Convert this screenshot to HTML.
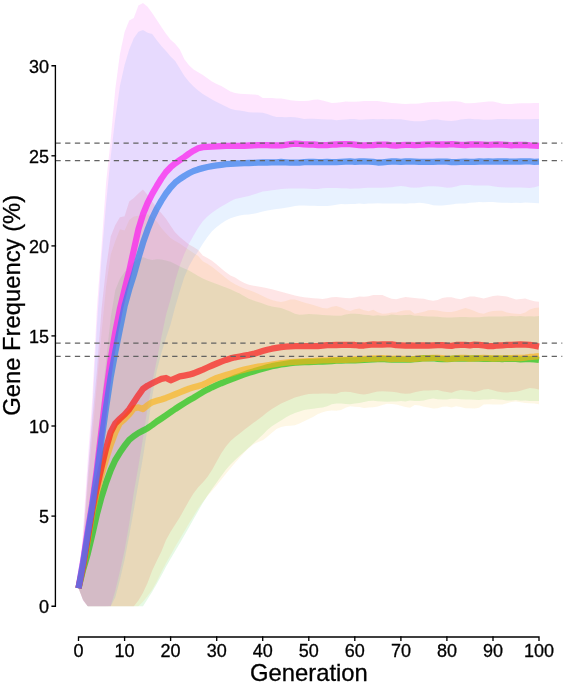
<!DOCTYPE html>
<html lang="en">
<head>
<meta charset="utf-8">
<title>Gene Frequency by Generation</title>
<style>
html,body{margin:0;padding:0;background:#fff;}
body{width:565px;height:685px;overflow:hidden;font-family:"Liberation Sans",Arial,Helvetica,sans-serif;}
svg{display:block;}
</style>
</head>
<body>
<svg width="565" height="685" viewBox="0 0 565 685">
<rect width="565" height="685" fill="#ffffff"/>
<g>
<polygon points="78.5,588.2 83.1,564.4 87.7,529.2 92.3,482.5 96.9,441.3 101.5,401.8 106.1,360 110.7,317.6 115.3,289.9 119.9,278.7 124.6,272.1 129.2,266.5 133.8,262.2 138.4,258.7 143,257 147.6,259 152.2,259.9 156.8,259.3 161.4,259.6 166,260.5 170.6,261.7 175.2,264.1 179.8,266.6 184.4,268.6 189,270.6 193.6,273.2 198.2,276 202.8,278.4 207.4,280.5 212,282.3 216.7,284 221.3,285.7 225.9,287.4 230.5,289.3 235.1,291.4 239.7,293.6 244.3,296.2 248.9,298.7 253.5,300.5 258.1,301.9 262.7,303.5 267.3,305.2 271.9,306.4 276.5,307.2 281.1,308 285.7,309.7 290.3,311.6 294.9,313.7 299.5,314.8 304.1,314.5 308.8,314 313.4,314.2 318,314.6 322.6,315 327.2,315.3 331.8,315.6 336.4,315.7 341,315.7 345.6,314.4 350.2,313.7 354.8,313.7 359.4,314 364,314.7 368.6,315.1 373.2,315.7 377.8,315.2 382.4,315.7 387,315.6 391.6,314.5 396.2,315 400.9,315.2 405.5,314.9 410.1,314.8 414.7,315.7 419.3,315.8 423.9,316.2 428.5,316.4 433.1,316.6 437.7,316.8 442.3,317.2 446.9,317.5 451.5,317.5 456.1,317.2 460.7,317.1 465.3,316.9 469.9,317.2 474.5,317.3 479.1,317.2 483.7,316.8 488.3,316.4 493,316.4 497.6,316.4 502.2,316.4 506.8,316.3 511.4,316.1 516,316.3 520.6,316.1 525.2,316.4 529.8,316.3 534.4,316.5 539,316 539,400.9 534.4,401 529.8,401.1 525.2,400.6 520.6,400.7 516,400.1 511.4,400.6 506.8,400.4 502.2,399.7 497.6,399.6 493,399 488.3,399.5 483.7,399.6 479.1,400.1 474.5,399.8 469.9,399.6 465.3,399.5 460.7,399.2 456.1,398.8 451.5,398.7 446.9,399.4 442.3,399.5 437.7,399.2 433.1,398.6 428.5,399.3 423.9,400.5 419.3,400.9 414.7,401 410.1,400.6 405.5,401.5 400.9,401.1 396.2,401.6 391.6,401.4 387,401.8 382.4,401.6 377.8,401.2 373.2,400.7 368.6,401.1 364,402 359.4,403 354.8,403.4 350.2,404.2 345.6,404 341,403.5 336.4,403.6 331.8,404.3 327.2,406.2 322.6,407.5 318,408.1 313.4,408.8 308.8,409.2 304.1,409.9 299.5,411.4 294.9,413.1 290.3,415.1 285.7,417.6 281.1,420.4 276.5,423.2 271.9,426.3 267.3,430.1 262.7,434.8 258.1,439 253.5,443.2 248.9,447.4 244.3,451.7 239.7,455.8 235.1,459.9 230.5,464.4 225.9,469.8 221.3,476 216.7,482.5 212,489 207.4,495.7 202.8,502.9 198.2,510.9 193.6,519.1 189,527.2 184.4,535.3 179.8,543.3 175.2,551.1 170.6,558.8 166,566.8 161.4,575.4 156.8,583.8 152.2,591.7 147.6,599 143,606.2 138.4,606.2 133.8,606.2 129.2,606.2 124.6,606.2 119.9,606.2 115.3,606.2 110.7,606.2 106.1,606.2 101.5,606.2 96.9,606.2 92.3,606.2 87.7,606.2 83.1,599.4 78.5,588.2" fill="rgb(28,199,20)" fill-opacity="0.11"/>
<polygon points="78.5,588.2 83.1,546.1 87.7,486.6 92.3,436.1 96.9,383.7 101.5,333.2 106.1,286.4 110.7,254.6 115.3,241 119.9,229.3 124.6,230.6 129.2,220.1 133.8,216.6 138.4,215.7 143,214.4 147.6,214.3 152.2,217.1 156.8,221.6 161.4,228 166,233.3 170.6,237.9 175.2,241 179.8,243.4 184.4,246.7 189,250.1 193.6,252.9 198.2,256 202.8,261.3 207.4,263.8 212,266.8 216.7,270.6 221.3,274.3 225.9,278.1 230.5,281.5 235.1,284.2 239.7,286.5 244.3,288.5 248.9,290 253.5,291.8 258.1,293.7 262.7,295.9 267.3,298.3 271.9,299.9 276.5,301.2 281.1,301.9 285.7,301.1 290.3,299.5 294.9,299.5 299.5,300.9 304.1,302.4 308.8,303.8 313.4,304.9 318,306.5 322.6,308 327.2,308.6 331.8,306.7 336.4,306 341,307.4 345.6,309.7 350.2,311 354.8,309.2 359.4,308.4 364,310.2 368.6,311.3 373.2,309.7 377.8,312.2 382.4,313.7 387,313.6 391.6,312.5 396.2,312.5 400.9,311.1 405.5,310.3 410.1,310.3 414.7,313.7 419.3,312.7 423.9,311.8 428.5,310.2 433.1,309.9 437.7,310.5 442.3,311.6 446.9,311.9 451.5,312 456.1,311.1 460.7,309.4 465.3,308 469.9,309.2 474.5,310.9 479.1,313 483.7,313.7 488.3,312.1 493,311 497.6,310.8 502.2,310.8 506.8,312.4 511.4,313.3 516,313.7 520.6,314.1 525.2,312.4 529.8,309.6 534.4,308.1 539,307.6 539,404.3 534.4,403.5 529.8,403.3 525.2,402.9 520.6,402.2 516,401.6 511.4,402.1 506.8,403.2 502.2,404.5 497.6,404.6 493,404.5 488.3,404.3 483.7,404.5 479.1,407.8 474.5,408.5 469.9,408.3 465.3,408.2 460.7,406.9 456.1,406.2 451.5,407.6 446.9,406.5 442.3,406.8 437.7,408.2 433.1,408.4 428.5,407.4 423.9,406.7 419.3,405.6 414.7,405.1 410.1,407.7 405.5,407 400.9,405.7 396.2,404.4 391.6,404 387,403.8 382.4,405 377.8,406.6 373.2,407.3 368.6,407.4 364,407.9 359.4,407.1 354.8,406.7 350.2,406.3 345.6,407.7 341,410.1 336.4,410.7 331.8,410.6 327.2,411.1 322.6,412.3 318,413.9 313.4,416.7 308.8,419.1 304.1,421.3 299.5,423.5 294.9,425.3 290.3,425.8 285.7,426.1 281.1,426.9 276.5,429 271.9,432.8 267.3,436.8 262.7,440.2 258.1,442.1 253.5,444.3 248.9,448 244.3,452.6 239.7,457.5 235.1,462.7 230.5,468.2 225.9,473.8 221.3,479.5 216.7,485.2 212,490.7 207.4,496.1 202.8,501.9 198.2,508.6 193.6,516 189,523.6 184.4,531.2 179.8,538.9 175.2,546.8 170.6,554.9 166,563.2 161.4,572.1 156.8,581.5 152.2,589.7 147.6,596.1 143,601.7 138.4,606.2 133.8,606.2 129.2,606.2 124.6,606.2 119.9,606.2 115.3,606.2 110.7,606.2 106.1,606.2 101.5,606.2 96.9,606.2 92.3,606.2 87.7,606.2 83.1,600.2 78.5,588.2" fill="rgb(250,178,20)" fill-opacity="0.11"/>
<polygon points="78.5,588.2 83.1,536.3 87.7,474.4 92.3,420.6 96.9,370.9 101.5,309.3 106.1,267.6 110.7,236.5 115.3,225.1 119.9,217.2 124.6,216.2 129.2,201.4 133.8,198 138.4,193.6 143,189.6 147.6,195.1 152.2,201.8 156.8,207.7 161.4,213.2 166,218.8 170.6,225.8 175.2,232.5 179.8,236.9 184.4,240.7 189,244.4 193.6,247 198.2,250 202.8,255.5 207.4,257.9 212,260.8 216.7,264.5 221.3,268.4 225.9,272.2 230.5,275.5 235.1,277.6 239.7,280.5 244.3,283.1 248.9,284.7 253.5,285.7 258.1,286.4 262.7,287.2 267.3,288.2 271.9,289.2 276.5,290.4 281.1,291.8 285.7,293.1 290.3,294.3 294.9,295.5 299.5,296.5 304.1,297.2 308.8,297.8 313.4,298.3 318,298.4 322.6,298.9 327.2,298.2 331.8,297.2 336.4,296.9 341,297.6 345.6,298.1 350.2,298.3 354.8,297.5 359.4,296.6 364,296.8 368.6,296.2 373.2,295.1 377.8,295.1 382.4,294.9 387,297 391.6,298.7 396.2,299.2 400.9,298.1 405.5,297 410.1,297.5 414.7,298 419.3,298.4 423.9,298.7 428.5,300.1 433.1,300.7 437.7,299.9 442.3,298 446.9,297.3 451.5,297.3 456.1,298.5 460.7,299.2 465.3,297.8 469.9,296.4 474.5,296.5 479.1,297.6 483.7,298.5 488.3,297.2 493,296 497.6,295.5 502.2,295.9 506.8,296.5 511.4,298 516,299.4 520.6,299 525.2,298.6 529.8,299.9 534.4,301.3 539,301.7 539,389.4 534.4,388.6 529.8,388.1 525.2,389.3 520.6,390.7 516,391.7 511.4,392.1 506.8,392.4 502.2,392.3 497.6,391.5 493,390.2 488.3,389 483.7,389.6 479.1,390.9 474.5,392 469.9,391.1 465.3,390.5 460.7,390 456.1,391.1 451.5,392.8 446.9,391.9 442.3,391.2 437.7,390 433.1,390.3 428.5,390.4 423.9,390.5 419.3,391.2 414.7,392.2 410.1,393.4 405.5,393.7 400.9,393.3 396.2,392.3 391.6,391.7 387,391.6 382.4,391.3 377.8,391.4 373.2,392.4 368.6,393.7 364,394.5 359.4,394 354.8,393 350.2,392 345.6,391.7 341,392 336.4,393.8 331.8,393.7 327.2,393.5 322.6,393.6 318,393.7 313.4,393.7 308.8,393.9 304.1,395 299.5,396.3 294.9,397.6 290.3,399.4 285.7,401.4 281.1,403.6 276.5,406.2 271.9,409 267.3,412.3 262.7,415.9 258.1,419.4 253.5,422.8 248.9,426.3 244.3,429.8 239.7,433.5 235.1,437.1 230.5,441 225.9,446.4 221.3,453.2 216.7,461.5 212,470.1 207.4,477.1 202.8,482.4 198.2,487.3 193.6,493.3 189,500.8 184.4,509.1 179.8,517.3 175.2,524.6 170.6,531.7 166,540 161.4,551.6 156.8,560.7 152.2,570.6 147.6,582.8 143,592.8 138.4,600.4 133.8,606.2 129.2,606.2 124.6,606.2 119.9,606.2 115.3,606.2 110.7,606.2 106.1,606.2 101.5,606.2 96.9,606.2 92.3,606.2 87.7,606.2 83.1,600.2 78.5,588.2" fill="rgb(243,21,27)" fill-opacity="0.11"/>
<polygon points="78.5,588.2 83.1,529.3 87.7,460.8 92.3,398.2 96.9,308.5 101.5,246.7 106.1,182.5 110.7,139.8 115.3,89 119.9,54.3 124.6,31.9 129.2,20.5 133.8,17.9 138.4,5.6 143,3 147.6,6.8 152.2,12.9 156.8,20 161.4,27 166,33.8 170.6,39.7 175.2,43.8 179.8,49.5 184.4,59.2 189,65.2 193.6,69.5 198.2,72.3 202.8,74.9 207.4,78.2 212,81.4 216.7,83.9 221.3,86.1 225.9,88.7 230.5,91.4 235.1,92.9 239.7,93.7 244.3,94.1 248.9,94.2 253.5,94.5 258.1,95.1 262.7,97.9 267.3,98.1 271.9,98.1 276.5,98.4 281.1,98.5 285.7,99.3 290.3,100.3 294.9,100.7 299.5,101.1 304.1,101 308.8,100.7 313.4,99.8 318,99.4 322.6,100.5 327.2,101.8 331.8,103.1 336.4,102.8 341,102.2 345.6,101.6 350.2,101.7 354.8,101.8 359.4,101.6 364,101.1 368.6,101 373.2,101.1 377.8,101.1 382.4,101.7 387,102.2 391.6,103.1 396.2,103.3 400.9,103.8 405.5,103.9 410.1,103.8 414.7,103.7 419.3,103.6 423.9,102.8 428.5,102.2 433.1,101.9 437.7,101.9 442.3,101.6 446.9,101.4 451.5,101.2 456.1,101.3 460.7,101.8 465.3,103.2 469.9,103.3 474.5,102.9 479.1,102.4 483.7,102 488.3,101.6 493,101.6 497.6,102.6 502.2,103.8 506.8,104.1 511.4,104.1 516,103.6 520.6,103.2 525.2,103.3 529.8,103.3 534.4,103.1 539,102.9 539,186 534.4,187.2 529.8,187.9 525.2,187.8 520.6,187.5 516,187.5 511.4,187.4 506.8,187.4 502.2,187.3 497.6,187 493,186.3 488.3,185.5 483.7,185.4 479.1,185.4 474.5,185.4 469.9,184.9 465.3,185 460.7,185.3 456.1,186.5 451.5,187.5 446.9,187.8 442.3,187.1 437.7,186.5 433.1,186.2 428.5,186.3 423.9,186.8 419.3,187.5 414.7,187.8 410.1,187.6 405.5,186.5 400.9,186.1 396.2,186.6 391.6,187.2 387,187.4 382.4,187.8 377.8,187.7 373.2,187.8 368.6,187.7 364,188.1 359.4,188.4 354.8,188.5 350.2,188.7 345.6,188.3 341,188.3 336.4,188 331.8,187.9 327.2,187.9 322.6,188.3 318,189 313.4,188.9 308.8,188.8 304.1,188.4 299.5,188.4 294.9,188.5 290.3,188.4 285.7,188.8 281.1,189.1 276.5,189.8 271.9,190.3 267.3,190.9 262.7,191.6 258.1,192.9 253.5,194.6 248.9,196 244.3,197.1 239.7,198 235.1,199.1 230.5,201.3 225.9,203.9 221.3,206.5 216.7,209.4 212,212.7 207.4,216.5 202.8,221.2 198.2,227.8 193.6,235.6 189,243.8 184.4,253.7 179.8,265.5 175.2,280.8 170.6,298.9 166,315 161.4,336.9 156.8,359.8 152.2,382.6 147.6,407.6 143,438.1 138.4,466.2 133.8,492.5 129.2,523.7 124.6,550.3 119.9,571.2 115.3,590.7 110.7,606 106.1,606.2 101.5,606.2 96.9,606.2 92.3,606.2 87.7,606.2 83.1,600.4 78.5,588.2" fill="rgb(250,20,245)" fill-opacity="0.11"/>
<polygon points="78.5,588.2 83.1,546.6 87.7,475.2 92.3,410.8 96.9,324.8 101.5,258.2 106.1,203.2 110.7,156.7 115.3,118.2 119.9,85.9 124.6,65.1 129.2,49.5 133.8,38.3 138.4,31.8 143,30 147.6,32.8 152.2,34.1 156.8,40.3 161.4,45.9 166,51 170.6,56.4 175.2,61.1 179.8,68.4 184.4,76 189,81.8 193.6,86.6 198.2,90.5 202.8,93.9 207.4,96.8 212,99.5 216.7,101.9 221.3,104.2 225.9,106.5 230.5,108.8 235.1,110 239.7,110.6 244.3,111.2 248.9,112.2 253.5,112.5 258.1,112.6 262.7,112.8 267.3,113.9 271.9,115.8 276.5,117 281.1,117.1 285.7,117.2 290.3,117.1 294.9,117.3 299.5,118 304.1,119 308.8,118.7 313.4,118.7 318,118.9 322.6,119.3 327.2,119.5 331.8,119.6 336.4,120.2 341,119.8 345.6,119.4 350.2,118.9 354.8,119.1 359.4,119.7 364,119.5 368.6,119.3 373.2,118.9 377.8,119.3 382.4,119.1 387,119.3 391.6,119 396.2,119.3 400.9,119.3 405.5,119.9 410.1,120.7 414.7,121.2 419.3,121.2 423.9,120.9 428.5,120.1 433.1,119.5 437.7,119.5 442.3,120.2 446.9,120.8 451.5,121.1 456.1,120.6 460.7,119.5 465.3,119 469.9,118.8 474.5,119.3 479.1,119.3 483.7,119.7 488.3,119.7 493,119.6 497.6,119.1 502.2,119.1 506.8,119 511.4,119.2 516,119.2 520.6,119.2 525.2,119.3 529.8,119.2 534.4,119.1 539,118.9 539,203.3 534.4,202.9 529.8,202.8 525.2,202.5 520.6,202.9 516,202.8 511.4,203 506.8,202.8 502.2,202.7 497.6,202.4 493,202.1 488.3,201.9 483.7,202.3 479.1,202.1 474.5,202.5 469.9,202.7 465.3,203.4 460.7,203.4 456.1,203.8 451.5,204.4 446.9,204.9 442.3,205.4 437.7,205.6 433.1,205.3 428.5,204.1 423.9,203.2 419.3,202.7 414.7,203.2 410.1,203.2 405.5,203.8 400.9,203.5 396.2,203.6 391.6,203.5 387,203.6 382.4,203.5 377.8,203.2 373.2,203.5 368.6,203.6 364,203.9 359.4,203.6 354.8,204 350.2,204 345.6,204.2 341,204.1 336.4,204.8 331.8,205.5 327.2,206.1 322.6,206.1 318,206.1 313.4,205.8 308.8,205.7 304.1,205.6 299.5,205.6 294.9,206.1 290.3,206.9 285.7,207.7 281.1,208.4 276.5,209 271.9,209.7 267.3,210.5 262.7,211.5 258.1,212.7 253.5,213.8 248.9,214.4 244.3,214.8 239.7,215.6 235.1,216.7 230.5,218.3 225.9,220.6 221.3,223.6 216.7,226.9 212,231.2 207.4,236.9 202.8,243.7 198.2,251.2 193.6,258.1 189,266.2 184.4,276.8 179.8,291.3 175.2,306.7 170.6,324.3 166,338 161.4,353 156.8,370.5 152.2,396.6 147.6,427.2 143,457.2 138.4,483.3 133.8,509.8 129.2,535.6 124.6,559.4 119.9,579.8 115.3,597.2 110.7,606.2 106.1,606.2 101.5,606.2 96.9,606.2 92.3,606.2 87.7,606.2 83.1,600.4 78.5,588.2" fill="rgb(50,140,255)" fill-opacity="0.11"/>
</g>
<g>
<polyline points="78.5,588.2 83.1,569.5 87.7,553.8 92.3,534.4 96.9,514.3 101.5,497 106.1,482.6 110.7,470.1 115.3,460 119.9,452.6 124.6,445.7 129.2,439.9 133.8,436.1 138.4,433 143,430.6 147.6,428.2 152.2,425 156.8,421.5 161.4,418.5 166,415.4 170.6,412.2 175.2,409 179.8,406 184.4,403.1 189,400.3 193.6,397.7 198.2,394.9 202.8,392.1 207.4,389.6 212,387.3 216.7,385.2 221.3,383.2 225.9,381.4 230.5,379.6 235.1,377.8 239.7,376.1 244.3,374.4 248.9,372.8 253.5,371.4 258.1,370 262.7,368.7 267.3,367.4 271.9,366.2 276.5,365.3 281.1,364.5 285.7,363.8 290.3,363.2 294.9,362.7 299.5,362.4 304.1,362.2 308.8,362 313.4,361.8 318,361.7 322.6,361.5 327.2,361.3 331.8,361 336.4,360.7 341,360.7 345.6,360.3 350.2,360.3 354.8,360.3 359.4,360.1 364,359.8 368.6,359.5 373.2,359.3 377.8,359.2 382.4,358.9 387,359.3 391.6,359.5 396.2,359.4 400.9,359.6 405.5,359.7 410.1,359.7 414.7,359.2 419.3,358.8 423.9,358.1 428.5,358.4 433.1,358.1 437.7,358.8 442.3,359.1 446.9,359.2 451.5,358.8 456.1,358.3 460.7,358.7 465.3,358.6 469.9,358.7 474.5,358.4 479.1,358.5 483.7,358.9 488.3,358.7 493,358.8 497.6,358.6 502.2,359 506.8,358.7 511.4,358.9 516,358.8 520.6,359.3 525.2,359.2 529.8,359.1 534.4,359.3 539,359.9" fill="none" stroke="rgb(28,199,20)" stroke-opacity="0.7" stroke-width="6.3" stroke-linejoin="round" stroke-linecap="butt"/>
<polyline points="78.5,588.2 83.1,567 87.7,540.9 92.3,512.7 96.9,492.2 101.5,475.2 106.1,459.1 110.7,444.9 115.3,432.5 119.9,423 124.6,419 129.2,414.3 133.8,408.4 138.4,407.4 143,409 147.6,405.2 152.2,402.2 156.8,400.8 161.4,399.5 166,397.9 170.6,396.1 175.2,394.3 179.8,392.4 184.4,390.5 189,388.7 193.6,387.3 198.2,386.1 202.8,384.7 207.4,382.6 212,380.1 216.7,378 221.3,376.5 225.9,375.1 230.5,373.7 235.1,372.2 239.7,370.8 244.3,369.6 248.9,368.5 253.5,367.5 258.1,366.7 262.7,366 267.3,365.3 271.9,364.6 276.5,363.9 281.1,363.2 285.7,362.7 290.3,362.2 294.9,361.9 299.5,361.6 304.1,361.3 308.8,361.1 313.4,361 318,360.7 322.6,360.4 327.2,360.3 331.8,360 336.4,360.1 341,359.9 345.6,359.8 350.2,359.6 354.8,359.5 359.4,359.4 364,358.8 368.6,358.8 373.2,358.4 377.8,358.5 382.4,358.2 387,358.5 391.6,359 396.2,358.7 400.9,358.8 405.5,358.9 410.1,359.1 414.7,358.8 419.3,358.3 423.9,358.3 428.5,358.1 433.1,357.8 437.7,357.9 442.3,358.2 446.9,358.9 451.5,358.7 456.1,358.3 460.7,357.9 465.3,358 469.9,358.5 474.5,358.4 479.1,358.2 483.7,358 488.3,358.2 493,358.5 497.6,358.4 502.2,358.4 506.8,358.1 511.4,358.1 516,358 520.6,358 525.2,357.6 529.8,357 534.4,356.7 539,356.2" fill="none" stroke="rgb(250,178,20)" stroke-opacity="0.64" stroke-width="6.3" stroke-linejoin="round" stroke-linecap="butt"/>
<polyline points="78.5,588.2 83.1,566.2 87.7,538.7 92.3,509.7 96.9,487.5 101.5,467.3 106.1,448.3 110.7,432.2 115.3,423.4 119.9,418.8 124.6,414.5 129.2,409.3 133.8,402.2 138.4,395.3 143,388.9 147.6,385.7 152.2,383.3 156.8,381 161.4,378.9 166,378 170.6,380.3 175.2,378.3 179.8,376.4 184.4,375.6 189,374.7 193.6,373.4 198.2,371.5 202.8,369.6 207.4,367.5 212,365.5 216.7,363.5 221.3,361.6 225.9,359.9 230.5,358.4 235.1,357.3 239.7,356.5 244.3,355.7 248.9,354.9 253.5,353.9 258.1,352.5 262.7,351.1 267.3,349.8 271.9,348.7 276.5,347.9 281.1,347.2 285.7,346.7 290.3,346.3 294.9,346.1 299.5,346.1 304.1,346.1 308.8,346.1 313.4,346.1 318,346 322.6,345.6 327.2,345.2 331.8,345.1 336.4,345 341,344.9 345.6,344.8 350.2,344.8 354.8,345 359.4,345.6 364,345.5 368.6,344.9 373.2,344.4 377.8,344.7 382.4,344.5 387,344.4 391.6,344.3 396.2,345.2 400.9,345.4 405.5,345.6 410.1,345.3 414.7,345.7 419.3,345.5 423.9,345.5 428.5,345.6 433.1,345.3 437.7,345.2 442.3,345.1 446.9,345.6 451.5,345.9 456.1,345 460.7,344.9 465.3,344.9 469.9,345.4 474.5,344.7 479.1,344.8 483.7,345.4 488.3,346.1 493,346.2 497.6,345.5 502.2,345.4 506.8,344.9 511.4,344.8 516,344.6 520.6,344.5 525.2,344.6 529.8,344.8 534.4,345.7 539,346.6" fill="none" stroke="rgb(250,28,30)" stroke-opacity="0.7" stroke-width="6.3" stroke-linejoin="round" stroke-linecap="butt"/>
<polyline points="78.5,588.2 83.1,561 87.7,531.4 92.3,503.5 96.9,469.3 101.5,430.8 106.1,393 110.7,359.2 115.3,332.1 119.9,308.8 124.6,289.6 129.2,271.2 133.8,250.1 138.4,229.4 143,214.3 147.6,203 152.2,193.9 156.8,186 161.4,178.5 166,172 170.6,167.2 175.2,163.3 179.8,160.1 184.4,157 189,153.6 193.6,150.7 198.2,148.3 202.8,147.1 207.4,146.9 212,146.7 216.7,146.4 221.3,146.1 225.9,145.8 230.5,145.8 235.1,145.9 239.7,145.9 244.3,145.8 248.9,145.5 253.5,145.3 258.1,145.1 262.7,145.2 267.3,145.1 271.9,145.4 276.5,145.3 281.1,145.4 285.7,144.8 290.3,144.1 294.9,143.7 299.5,143.9 304.1,144.4 308.8,144.5 313.4,144.5 318,145 322.6,145.2 327.2,145.1 331.8,144.7 336.4,144.5 341,144.2 345.6,144.2 350.2,144.2 354.8,144.7 359.4,145.1 364,145.3 368.6,145.1 373.2,145.1 377.8,144.7 382.4,144.6 387,144.6 391.6,145.3 396.2,145.5 400.9,145.1 405.5,144.8 410.1,144.9 414.7,145.1 419.3,144.9 423.9,144.6 428.5,144.4 433.1,144.3 437.7,144.5 442.3,144.5 446.9,144.5 451.5,144.2 456.1,144.5 460.7,144.8 465.3,145 469.9,144.5 474.5,144.3 479.1,144.5 483.7,144.7 488.3,144.9 493,144.6 497.6,144.4 502.2,144.6 506.8,144.8 511.4,145.3 516,144.8 520.6,145 525.2,144.9 529.8,145.4 534.4,145.6 539,145.8" fill="none" stroke="rgb(252,25,238)" stroke-opacity="0.7" stroke-width="6.3" stroke-linejoin="round" stroke-linecap="butt"/>
<polyline points="78.5,588.2 83.1,563 87.7,534.2 92.3,505.6 96.9,474.8 101.5,439.9 106.1,407.2 110.7,376.9 115.3,351.9 119.9,329.2 124.6,305.9 129.2,289.4 133.8,274.8 138.4,258.1 143,242.8 147.6,229.7 152.2,218.1 156.8,208.7 161.4,200.6 166,193.5 170.6,187.5 175.2,182.6 179.8,179 184.4,176 189,173.3 193.6,171 198.2,169.4 202.8,168.1 207.4,167 212,166.1 216.7,165.4 221.3,164.8 225.9,164.2 230.5,163.8 235.1,163.5 239.7,163.3 244.3,163.2 248.9,163 253.5,162.8 258.1,162.6 262.7,162.5 267.3,162.5 271.9,162.4 276.5,162.3 281.1,162 285.7,162.3 290.3,162.6 294.9,162.7 299.5,162.7 304.1,162.1 308.8,162 313.4,161.9 318,162.1 322.6,162.2 327.2,162 331.8,162.1 336.4,162.1 341,161.8 345.6,161.6 350.2,161.4 354.8,161.8 359.4,161.5 364,161.5 368.6,161.6 373.2,161.9 377.8,162.5 382.4,162.3 387,161.8 391.6,161.5 396.2,161.5 400.9,161.9 405.5,161.5 410.1,161.5 414.7,161.6 419.3,161.9 423.9,161.9 428.5,161.9 433.1,161.9 437.7,161.7 442.3,161.6 446.9,161.7 451.5,162.2 456.1,162.1 460.7,161.9 465.3,161.7 469.9,161.9 474.5,161.9 479.1,161.5 483.7,161.7 488.3,161.5 493,161.6 497.6,161.4 502.2,161.5 506.8,161.5 511.4,161.6 516,161.7 520.6,161.5 525.2,161.3 529.8,161.4 534.4,161.8 539,161.7" fill="none" stroke="rgb(50,128,236)" stroke-opacity="0.7" stroke-width="6.3" stroke-linejoin="round" stroke-linecap="butt"/>
</g>
<g stroke="#626262" stroke-width="1.25" stroke-dasharray="5.3 4.43" fill="none">
<line x1="55.4" y1="143.2" x2="562.3" y2="143.2"/>
<line x1="55.4" y1="160.5" x2="562.3" y2="160.5"/>
<line x1="55.4" y1="343.1" x2="562.3" y2="343.1"/>
<line x1="55.4" y1="356.4" x2="562.3" y2="356.4"/>
</g>
<g stroke="#000" stroke-width="1.35" fill="none" stroke-linecap="square">
<path d="M52.1,65.7 H55.4 V606.2 H52.1"/>
<path d="M52.1,516.1 H55.4"/>
<path d="M52.1,426 H55.4"/>
<path d="M52.1,335.9 H55.4"/>
<path d="M52.1,245.9 H55.4"/>
<path d="M52.1,155.8 H55.4"/>
<path d="M78.5,640.3 V637 H539 V640.3"/>
<path d="M124.6,637 V640.3"/>
<path d="M170.6,637 V640.3"/>
<path d="M216.7,637 V640.3"/>
<path d="M262.7,637 V640.3"/>
<path d="M308.8,637 V640.3"/>
<path d="M354.8,637 V640.3"/>
<path d="M400.9,637 V640.3"/>
<path d="M446.9,637 V640.3"/>
<path d="M493,637 V640.3"/>
</g>
<g font-family="'Liberation Sans', Arial, Helvetica, sans-serif" font-size="18" fill="#000" stroke="#000" stroke-width="0.3">
<text x="49.1" y="613.2" text-anchor="end">0</text>
<text x="49.1" y="523.1" text-anchor="end">5</text>
<text x="49.1" y="433" text-anchor="end">10</text>
<text x="49.1" y="342.9" text-anchor="end">15</text>
<text x="49.1" y="252.9" text-anchor="end">20</text>
<text x="49.1" y="162.8" text-anchor="end">25</text>
<text x="49.1" y="72.7" text-anchor="end">30</text>
<text x="78.5" y="657.3" text-anchor="middle">0</text>
<text x="124.6" y="657.3" text-anchor="middle">10</text>
<text x="170.6" y="657.3" text-anchor="middle">20</text>
<text x="216.7" y="657.3" text-anchor="middle">30</text>
<text x="262.7" y="657.3" text-anchor="middle">40</text>
<text x="308.8" y="657.3" text-anchor="middle">50</text>
<text x="354.8" y="657.3" text-anchor="middle">60</text>
<text x="400.9" y="657.3" text-anchor="middle">70</text>
<text x="446.9" y="657.3" text-anchor="middle">80</text>
<text x="493" y="657.3" text-anchor="middle">90</text>
<text x="539" y="657.3" text-anchor="middle">100</text>
</g>
<g font-family="'Liberation Sans', Arial, Helvetica, sans-serif" font-size="23.8" fill="#000" stroke="#000" stroke-width="0.3">
<text x="308.9" y="681.4" text-anchor="middle">Generation</text>
<text transform="translate(20,305.3) rotate(-90)" text-anchor="middle">Gene Frequency (%)</text>
</g>
</svg>
</body>
</html>
